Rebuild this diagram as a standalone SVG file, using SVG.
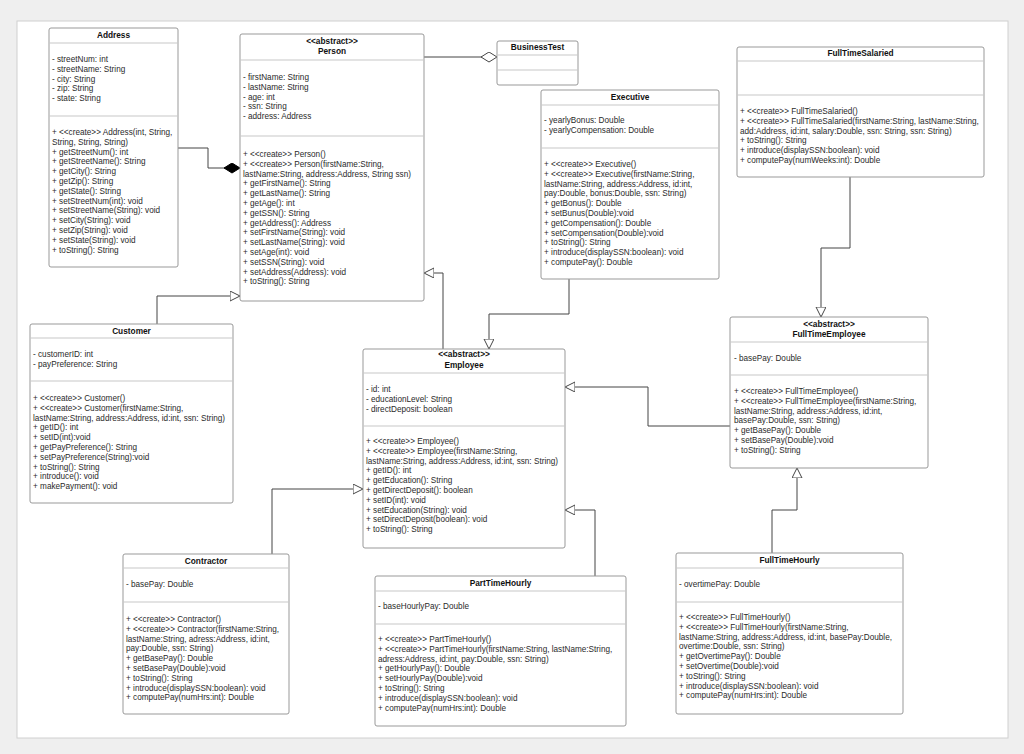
<svg xmlns="http://www.w3.org/2000/svg" width="1024" height="754" viewBox="0 0 1024 754">
<defs>
<style>
text{font-family:"Liberation Sans",Arial,sans-serif;font-size:8.2px;fill:#2a2a2a}
.t{font-weight:bold;text-anchor:middle;font-size:8.3px;fill:#111}
.b{fill:#fff;stroke:#999;stroke-width:1}
.s{stroke:#c8c8c8;stroke-width:1.2}
.c{fill:none;stroke:#444;stroke-width:1}
</style>
<marker id="tri" markerWidth="12" markerHeight="12" refX="10" refY="5" orient="auto" markerUnits="userSpaceOnUse"><path d="M0,0 L10,5 L0,10 Z" fill="#fff" stroke="#444"/></marker>
<marker id="fd" markerWidth="18" markerHeight="12" refX="16" refY="5" orient="auto" markerUnits="userSpaceOnUse"><path d="M0,5 L8,0 L16,5 L8,10 Z" fill="#000" stroke="#000"/></marker>
<marker id="od" markerWidth="18" markerHeight="12" refX="16" refY="5" orient="auto" markerUnits="userSpaceOnUse"><path d="M0,5 L8,0 L16,5 L8,10 Z" fill="#fff" stroke="#444"/></marker>
</defs>
<rect width="1024" height="754" fill="#efefef"/>
<rect x="17" y="21" width="991" height="717" fill="#fff" stroke="#d0d0d0"/>
<g id="connectors">
<path class="c" d="M178,148 H208 V168 H240" marker-end="url(#fd)"/>
<path class="c" d="M424,57 H497" marker-end="url(#od)"/>
<path class="c" d="M157,324 V296 H240" marker-end="url(#tri)"/>
<path class="c" d="M443,349 V273 H424" marker-end="url(#tri)"/>
<path class="c" d="M569,279 V314 H489 V349" marker-end="url(#tri)"/>
<path class="c" d="M850,177 V248 H821 V317" marker-end="url(#tri)"/>
<path class="c" d="M730,426 H648 V387 H565" marker-end="url(#tri)"/>
<path class="c" d="M272,554 V489 H363" marker-end="url(#tri)"/>
<path class="c" d="M595,576 V510 H565" marker-end="url(#tri)"/>
<path class="c" d="M772,553 V510 H797 V468" marker-end="url(#tri)"/>
</g>
<g id="Address">
<rect class="b" x="49" y="28" width="129" height="239" rx="2"/>
<line class="s" x1="49" y1="43" x2="178" y2="43"/><line class="s" x1="49" y1="116" x2="178" y2="116"/>
<text class="t" x="113.5" y="38">Address</text>
<text x="52" y="62"><tspan x="52">- streetNum: int</tspan><tspan x="52" dy="9.8">- streetName: String</tspan><tspan x="52" dy="9.8">- city: String</tspan><tspan x="52" dy="9.8">- zip: String</tspan><tspan x="52" dy="9.8">- state: String</tspan></text>
<text x="52" y="135"><tspan x="52">+ &lt;&lt;create&gt;&gt; Address(int, String,</tspan><tspan x="52" dy="9.8">String, String, String)</tspan><tspan x="52" dy="9.8">+ getStreetNum(): int</tspan><tspan x="52" dy="9.8">+ getStreetName(): String</tspan><tspan x="52" dy="9.8">+ getCity(): String</tspan><tspan x="52" dy="9.8">+ getZip(): String</tspan><tspan x="52" dy="9.8">+ getState(): String</tspan><tspan x="52" dy="9.8">+ setStreetNum(int): void</tspan><tspan x="52" dy="9.8">+ setStreetName(String): void</tspan><tspan x="52" dy="9.8">+ setCity(String): void</tspan><tspan x="52" dy="9.8">+ setZip(String): void</tspan><tspan x="52" dy="9.8">+ setState(String): void</tspan><tspan x="52" dy="9.8">+ toString(): String</tspan></text>
</g>
<g id="Person">
<rect class="b" x="240" y="34" width="184" height="267" rx="2"/>
<line class="s" x1="240" y1="60" x2="424" y2="60"/><line class="s" x1="240" y1="136" x2="424" y2="136"/>
<text class="t" x="332" y="44">&lt;&lt;abstract&gt;&gt;</text><text class="t" x="332" y="54">Person</text>
<text x="243" y="80"><tspan x="243">- firstName: String</tspan><tspan x="243" dy="9.8">- lastName: String</tspan><tspan x="243" dy="9.8">- age: int</tspan><tspan x="243" dy="9.8">- ssn: String</tspan><tspan x="243" dy="9.8">- address: Address</tspan></text>
<text x="243" y="157"><tspan x="243">+ &lt;&lt;create&gt;&gt; Person()</tspan><tspan x="243" dy="9.8">+ &lt;&lt;create&gt;&gt; Person(firstName:String,</tspan><tspan x="243" dy="9.8">lastName:String, address:Address, String ssn)</tspan><tspan x="243" dy="9.8">+ getFirstName(): String</tspan><tspan x="243" dy="9.8">+ getLastName(): String</tspan><tspan x="243" dy="9.8">+ getAge(): int</tspan><tspan x="243" dy="9.8">+ getSSN(): String</tspan><tspan x="243" dy="9.8">+ getAddress(): Address</tspan><tspan x="243" dy="9.8">+ setFirstName(String): void</tspan><tspan x="243" dy="9.8">+ setLastName(String): void</tspan><tspan x="243" dy="9.8">+ setAge(int): void</tspan><tspan x="243" dy="9.8">+ setSSN(String): void</tspan><tspan x="243" dy="9.8">+ setAddress(Address): void</tspan><tspan x="243" dy="9.8">+ toString(): String</tspan></text>
</g>
<g id="BusinessTest">
<rect class="b" x="497" y="41" width="81" height="44" rx="2"/>
<line class="s" x1="497" y1="55" x2="578" y2="55"/><line class="s" x1="497" y1="70" x2="578" y2="70"/>
<text class="t" x="537.5" y="50">BusinessTest</text>
</g>
<g id="Executive">
<rect class="b" x="541" y="90" width="178" height="189" rx="2"/>
<line class="s" x1="541" y1="105" x2="719" y2="105"/><line class="s" x1="541" y1="148" x2="719" y2="148"/>
<text class="t" x="630" y="100">Executive</text>
<text x="544" y="123"><tspan x="544">- yearlyBonus: Double</tspan><tspan x="544" dy="9.8">- yearlyCompensation: Double</tspan></text>
<text x="544" y="167"><tspan x="544">+ &lt;&lt;create&gt;&gt; Executive()</tspan><tspan x="544" dy="9.8">+ &lt;&lt;create&gt;&gt; Executive(firstName:String,</tspan><tspan x="544" dy="9.8">lastName:String, address:Address, id:int,</tspan><tspan x="544" dy="9.8">pay:Double, bonus:Double, ssn: String)</tspan><tspan x="544" dy="9.8">+ getBonus(): Double</tspan><tspan x="544" dy="9.8">+ setBunus(Double):void</tspan><tspan x="544" dy="9.8">+ getCompensation(): Double</tspan><tspan x="544" dy="9.8">+ setCompensation(Double):void</tspan><tspan x="544" dy="9.8">+ toString(): String</tspan><tspan x="544" dy="9.8">+ introduce(displaySSN:boolean): void</tspan><tspan x="544" dy="9.8">+ computePay(): Double</tspan></text>
</g>
<g id="FullTimeSalaried">
<rect class="b" x="737" y="47" width="247" height="130" rx="2"/>
<line class="s" x1="737" y1="61" x2="984" y2="61"/><line class="s" x1="737" y1="95" x2="984" y2="95"/>
<text class="t" x="860.5" y="56">FullTimeSalaried</text>
<text x="740" y="114"><tspan x="740">+ &lt;&lt;create&gt;&gt; FullTimeSalaried()</tspan><tspan x="740" dy="9.8">+ &lt;&lt;create&gt;&gt; FullTimeSalaried(firstName:String, lastName:String,</tspan><tspan x="740" dy="9.8">add:Address, id:int, salary:Double, ssn: String, ssn: String)</tspan><tspan x="740" dy="9.8">+ toString(): String</tspan><tspan x="740" dy="9.8">+ introduce(displaySSN:boolean): void</tspan><tspan x="740" dy="9.8">+ computePay(numWeeks:int): Double</tspan></text>
</g>
<g id="Customer">
<rect class="b" x="30" y="324" width="203" height="179" rx="2"/>
<line class="s" x1="30" y1="338" x2="233" y2="338"/><line class="s" x1="30" y1="381" x2="233" y2="381"/>
<text class="t" x="131.5" y="334">Customer</text>
<text x="33" y="357"><tspan x="33">- customerID: int</tspan><tspan x="33" dy="9.8">- payPreference: String</tspan></text>
<text x="33" y="401"><tspan x="33">+ &lt;&lt;create&gt;&gt; Customer()</tspan><tspan x="33" dy="9.8">+ &lt;&lt;create&gt;&gt; Customer(firstName:String,</tspan><tspan x="33" dy="9.8">lastName:String, address:Address, id:int, ssn: String)</tspan><tspan x="33" dy="9.8">+ getID(): int</tspan><tspan x="33" dy="9.8">+ setID(int):void</tspan><tspan x="33" dy="9.8">+ getPayPreference(): String</tspan><tspan x="33" dy="9.8">+ setPayPreference(String):void</tspan><tspan x="33" dy="9.8">+ toString(): String</tspan><tspan x="33" dy="9.8">+ introduce(): void</tspan><tspan x="33" dy="9.8">+ makePayment(): void</tspan></text>
</g>
<g id="Employee">
<rect class="b" x="363" y="349" width="202" height="199" rx="2"/>
<line class="s" x1="363" y1="373" x2="565" y2="373"/><line class="s" x1="363" y1="426" x2="565" y2="426"/>
<text class="t" x="464" y="357">&lt;&lt;abstract&gt;&gt;</text><text class="t" x="464" y="368">Employee</text>
<text x="366" y="392"><tspan x="366">- id: int</tspan><tspan x="366" dy="9.8">- educationLevel: String</tspan><tspan x="366" dy="9.8">- directDeposit: boolean</tspan></text>
<text x="366" y="444"><tspan x="366">+ &lt;&lt;create&gt;&gt; Employee()</tspan><tspan x="366" dy="9.8">+ &lt;&lt;create&gt;&gt; Employee(firstName:String,</tspan><tspan x="366" dy="9.8">lastName:String, address:Address, id:int, ssn: String)</tspan><tspan x="366" dy="9.8">+ getID(): int</tspan><tspan x="366" dy="9.8">+ getEducation(): String</tspan><tspan x="366" dy="9.8">+ getDirectDeposit(): boolean</tspan><tspan x="366" dy="9.8">+ setID(int): void</tspan><tspan x="366" dy="9.8">+ setEducation(String): void</tspan><tspan x="366" dy="9.8">+ setDirectDeposit(boolean): void</tspan><tspan x="366" dy="9.8">+ toString(): String</tspan></text>
</g>
<g id="FullTimeEmployee">
<rect class="b" x="730" y="317" width="198" height="151" rx="2"/>
<line class="s" x1="730" y1="342" x2="928" y2="342"/><line class="s" x1="730" y1="375" x2="928" y2="375"/>
<text class="t" x="829" y="327">&lt;&lt;abstract&gt;&gt;</text><text class="t" x="829" y="337">FullTimeEmployee</text>
<text x="734" y="361">- basePay: Double</text>
<text x="734" y="394"><tspan x="734">+ &lt;&lt;create&gt;&gt; FullTimeEmployee()</tspan><tspan x="734" dy="9.8">+ &lt;&lt;create&gt;&gt; FullTimeEmployee(firstName:String,</tspan><tspan x="734" dy="9.8">lastName:String, address:Address, id:int,</tspan><tspan x="734" dy="9.8">basePay:Double, ssn: String)</tspan><tspan x="734" dy="9.8">+ getBasePay(): Double</tspan><tspan x="734" dy="9.8">+ setBasePay(Double):void</tspan><tspan x="734" dy="9.8">+ toString(): String</tspan></text>
</g>
<g id="Contractor">
<rect class="b" x="123" y="554" width="166" height="160" rx="2"/>
<line class="s" x1="123" y1="568" x2="289" y2="568"/><line class="s" x1="123" y1="602" x2="289" y2="602"/>
<text class="t" x="206" y="564">Contractor</text>
<text x="126" y="587">- basePay: Double</text>
<text x="126" y="622"><tspan x="126">+ &lt;&lt;create&gt;&gt; Contractor()</tspan><tspan x="126" dy="9.8">+ &lt;&lt;create&gt;&gt; Contractor(firstName:String,</tspan><tspan x="126" dy="9.8">lastName:String, adress:Address, id:int,</tspan><tspan x="126" dy="9.8">pay:Double, ssn: String)</tspan><tspan x="126" dy="9.8">+ getBasePay(): Double</tspan><tspan x="126" dy="9.8">+ setBasePay(Double):void</tspan><tspan x="126" dy="9.8">+ toString(): String</tspan><tspan x="126" dy="9.8">+ introduce(displaySSN:boolean): void</tspan><tspan x="126" dy="9.8">+ computePay(numHrs:int): Double</tspan></text>
</g>
<g id="PartTimeHourly">
<rect class="b" x="375" y="576" width="251" height="150" rx="2"/>
<line class="s" x1="375" y1="591" x2="626" y2="591"/><line class="s" x1="375" y1="624" x2="626" y2="624"/>
<text class="t" x="500.5" y="586">PartTimeHourly</text>
<text x="378" y="609">- baseHourlyPay: Double</text>
<text x="378" y="642"><tspan x="378">+ &lt;&lt;create&gt;&gt; PartTimeHourly()</tspan><tspan x="378" dy="9.8">+ &lt;&lt;create&gt;&gt; PartTimeHourly(firstName:String, lastName:String,</tspan><tspan x="378" dy="9.8">adress:Address, id:int, pay:Double, ssn: String)</tspan><tspan x="378" dy="9.8">+ getHourlyPay(): Double</tspan><tspan x="378" dy="9.8">+ setHourlyPay(Double):void</tspan><tspan x="378" dy="9.8">+ toString(): String</tspan><tspan x="378" dy="9.8">+ introduce(displaySSN:boolean): void</tspan><tspan x="378" dy="9.8">+ computePay(numHrs:int): Double</tspan></text>
</g>
<g id="FullTimeHourly">
<rect class="b" x="676" y="553" width="227" height="161" rx="2"/>
<line class="s" x1="676" y1="568" x2="903" y2="568"/><line class="s" x1="676" y1="602" x2="903" y2="602"/>
<text class="t" x="789.5" y="563">FullTimeHourly</text>
<text x="679" y="587">- overtimePay: Double</text>
<text x="679" y="620"><tspan x="679">+ &lt;&lt;create&gt;&gt; FullTimeHourly()</tspan><tspan x="679" dy="9.8">+ &lt;&lt;create&gt;&gt; FullTimeHourly(firstName:String,</tspan><tspan x="679" dy="9.8">lastName:String, address:Address, id:int, basePay:Double,</tspan><tspan x="679" dy="9.8">overtime:Double, ssn: String)</tspan><tspan x="679" dy="9.8">+ getOvertimePay(): Double</tspan><tspan x="679" dy="9.8">+ setOvertime(Double):void</tspan><tspan x="679" dy="9.8">+ toString(): String</tspan><tspan x="679" dy="9.8">+ introduce(displaySSN:boolean): void</tspan><tspan x="679" dy="9.8">+ computePay(numHrs:int): Double</tspan></text>
</g>
</svg>
